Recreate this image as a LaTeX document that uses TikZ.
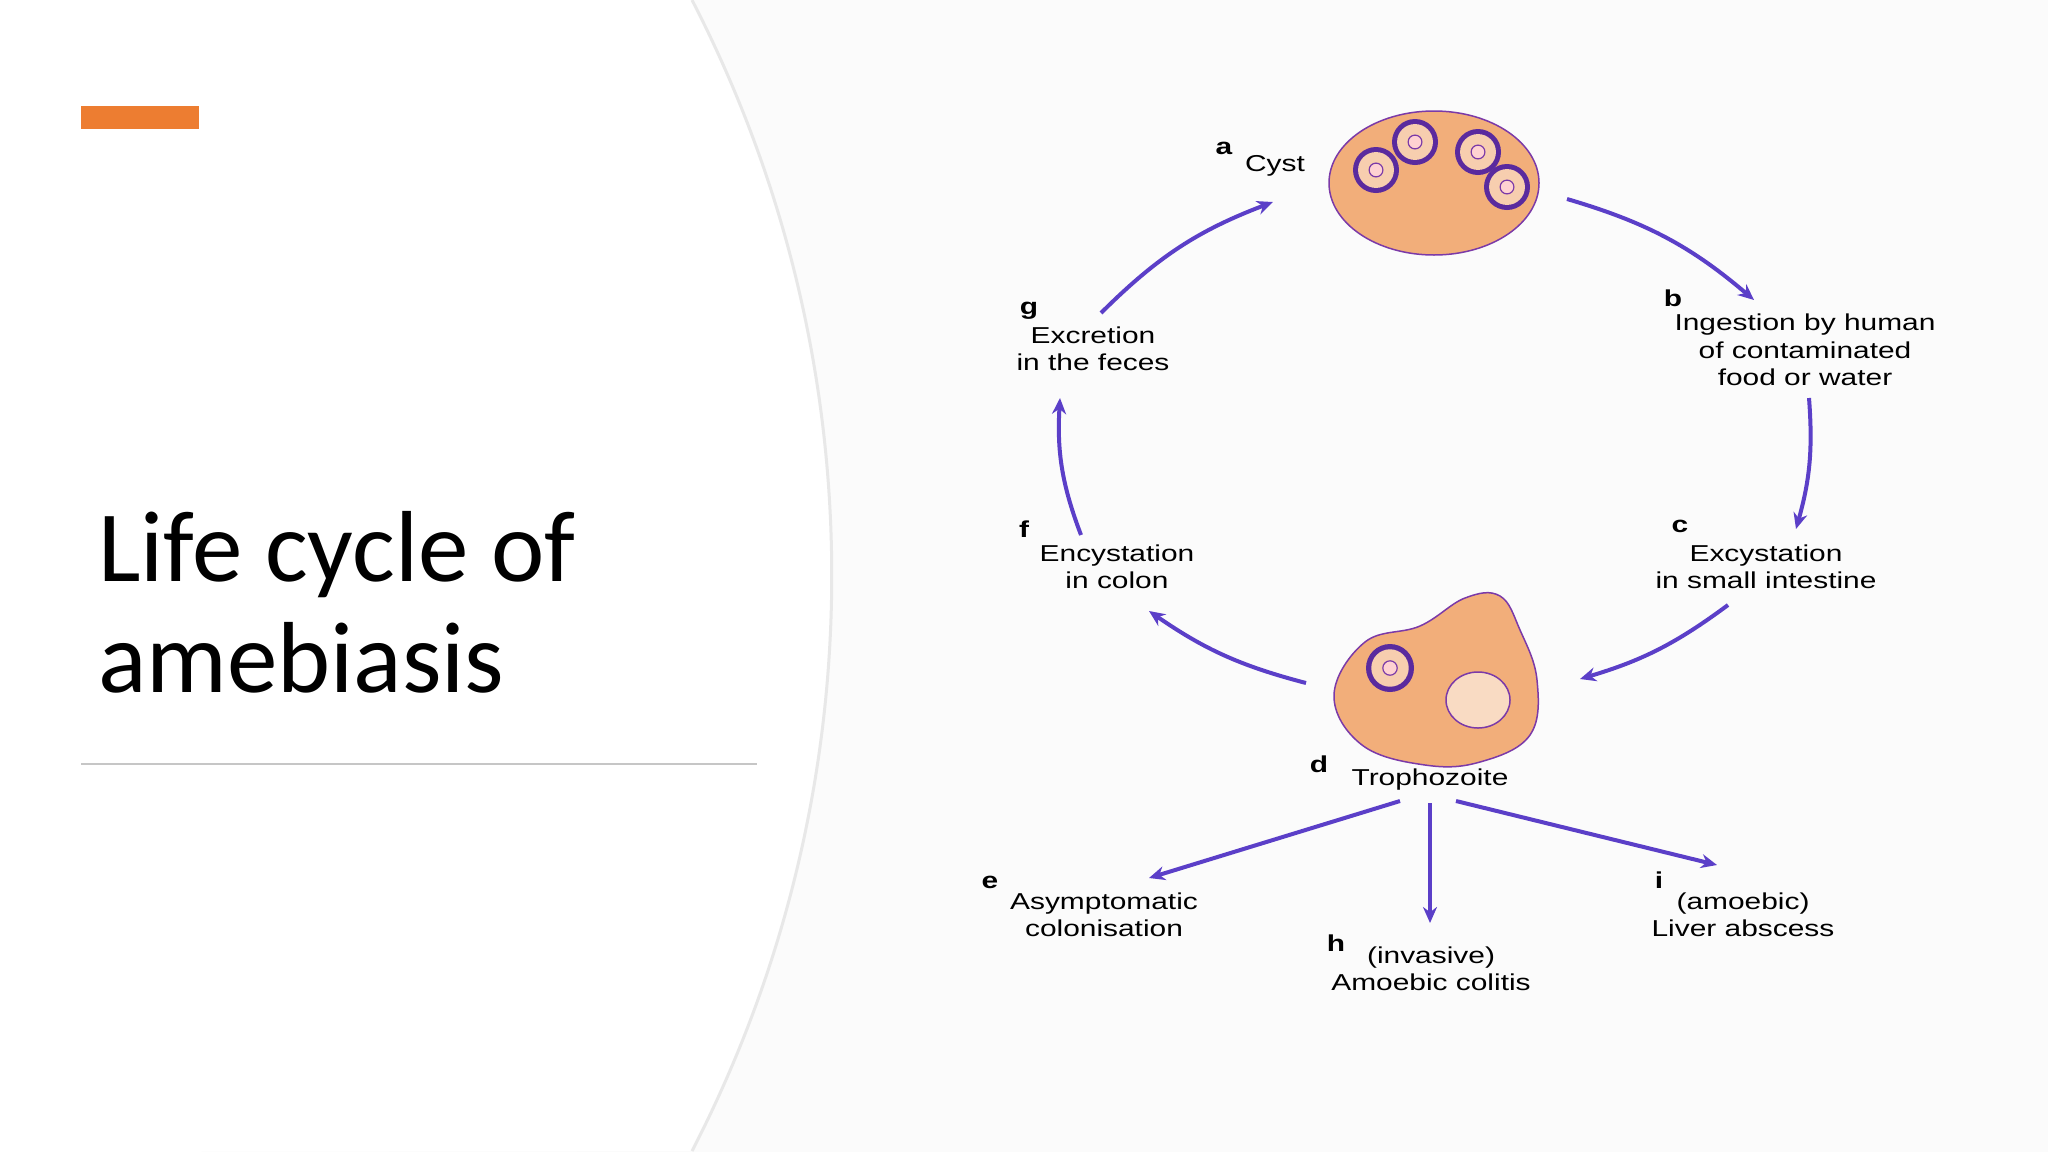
\documentclass[tikz,border=0pt]{standalone}
\usepackage{fontspec}
\setmainfont{Liberation Sans}[FakeStretch=1.3]
\newfontfamily\titlefont{Carlito}
\usetikzlibrary{arrows.meta}
\definecolor{arr}{HTML}{5B3FC8}
\definecolor{cellf}{HTML}{F2AE7A}
\definecolor{celld}{HTML}{7B3AA8}
\definecolor{ring}{HTML}{5A2A9E}
\definecolor{orangebar}{HTML}{ED7D31}
\tikzset{
 lab/.style={align=center,font=\fontsize{23}{27.5}\selectfont,inner sep=0pt},
 let/.style={font=\fontsize{23}{27.5}\selectfont\bfseries,inner sep=0pt},
 cyc/.style={draw=arr,line width=4pt,-{Stealth[length=16pt,width=14pt]}},
}
\newcommand{\nuc}[3]{%
 \fill[ring] (#1,#2) circle (#3);
 \fill[cellf!60!white] (#1,#2) circle (#3*0.78);
 \draw[celld,fill=pink!70!white,line width=1.2pt] (#1,#2) circle (#3*0.3);}
\begin{document}
\begin{tikzpicture}[x=1pt,y=-1pt]
\useasboundingbox (0,0) rectangle (2048,1152);
\fill[gray!3] (0,0) rectangle (2048,1152);
\fill[white] (0,0) -- (692,0) arc[start angle=-27.3,end angle=27.3,radius=1254.9] -- (0,1152) -- cycle;
\draw[gray!18,line width=3pt] (692,0) arc[start angle=-27.3,end angle=27.3,radius=1254.9];
\fill[orangebar] (81,106) rectangle (199,129);
\node[anchor=base west,inner sep=0pt,font=\titlefont\fontsize{101}{111}\selectfont] (t1) at (98,581) {Life cycle of};
\node[anchor=base west,inner sep=0pt,font=\titlefont\fontsize{101}{111}\selectfont] (t2) at (98,692) {amebiasis};
\draw[gray!45,line width=2pt] (81,764) -- (757,764);
% cyst
\draw[celld,fill=cellf,line width=1.5pt] (1434,183) ellipse [x radius=105,y radius=72];
\nuc{1415}{142}{23}\nuc{1376}{170}{23}\nuc{1478}{152}{23}\nuc{1507}{187}{23}
% trophozoite
\draw[celld,fill=cellf,line width=1.5pt] plot[smooth cycle,tension=0.65] coordinates {(1334,695) (1365,642) (1420,626) (1465,598) (1500,596) (1520,630) (1537,680) (1530,735) (1480,762) (1425,765) (1362,745)};
\nuc{1390}{668}{24}
\draw[celld,fill=cellf!45!white,line width=1.5pt] (1478,700) ellipse [x radius=32,y radius=28];
% labels
\node[let] (la) at (1224,148) {a};
\node[lab] (cyst) at (1275,166) {Cyst};
\node[let] (lb) at (1673,298) {b};
\node[lab] (b) at (1805,350) {Ingestion by human\\of contaminated\\food or water};
\node[let] (lc) at (1680,526) {c};
\node[lab] (c) at (1766,567) {Excystation\\in small intestine};
\node[let] (ld) at (1319,764) {d};
\node[lab] (d) at (1430,780) {Trophozoite};
\node[let] (le) at (990,882) {e};
\node[lab] (e) at (1104,915) {Asymptomatic\\colonisation};
\node[let] (lh) at (1336,943) {h};
\node[lab] (h) at (1431,969) {(invasive)\\Amoebic colitis};
\node[let] (li) at (1659,880) {i};
\node[lab] (i) at (1743,915) {(amoebic)\\Liver abscess};
\node[let] (lf) at (1024,529) {f};
\node[lab] (f) at (1117,567) {Encystation\\in colon};
\node[let] (lg) at (1029,311) {g};
\node[lab] (g) at (1093,349) {Excretion\\in the feces};
% arrow ends
\coordinate (a1) at (1567,199); \coordinate (a2) at (1754,300);
\coordinate (b1) at (1809,398); \coordinate (b2) at (1796,529);
\coordinate (c1) at (1728,605); \coordinate (c2) at (1580,679);
\coordinate (d1) at (1306,683); \coordinate (d2) at (1149,611);
\coordinate (f1) at (1081,535); \coordinate (f2) at (1060,398);
\coordinate (g1) at (1101,313); \coordinate (g2) at (1273,202);
\coordinate (e1) at (1400,801); \coordinate (e2) at (1149,878);
\coordinate (h1) at (1430,803); \coordinate (h2) at (1430,923);
\coordinate (i1) at (1456,801); \coordinate (i2) at (1717,865);
\draw[cyc] (a1) to[bend left=12] (a2);
\draw[cyc] (b1) to[bend left=10] (b2);
\draw[cyc] (c1) to[bend left=10] (c2);
\draw[cyc] (d1) to[bend left=10] (d2);
\draw[cyc] (f1) to[bend left=12] (f2);
\draw[cyc] (g1) to[bend left=12] (g2);
\draw[cyc] (e1) -- (e2);
\draw[cyc] (h1) -- (h2);
\draw[cyc] (i1) -- (i2);
\end{tikzpicture}
\end{document}
